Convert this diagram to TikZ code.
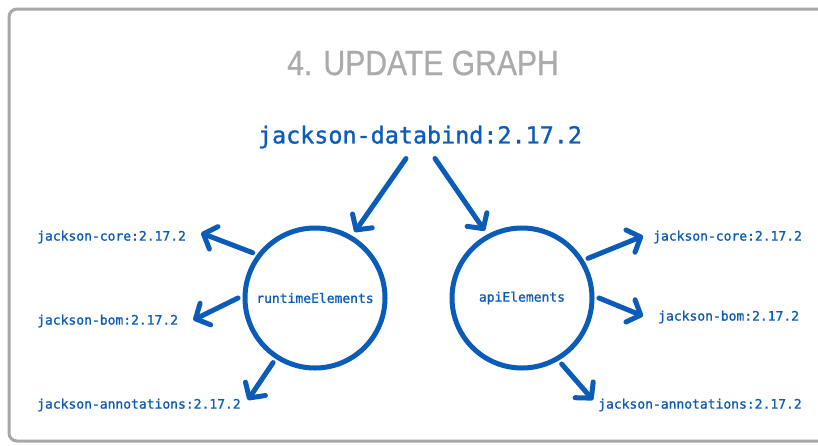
\documentclass[tikz,border=0pt]{standalone}
\usepackage{fontspec}
\setmainfont{Liberation Sans}
\newfontfamily\headfont[FakeStretch=0.86, FakeBold=0.6]{Liberation Sans}
\newfontfamily\codefont[FakeBold=1.1]{DejaVu Sans Mono}
\usetikzlibrary{arrows.meta, positioning, calc}

\definecolor{gblue}{HTML}{0B5CB8}
\definecolor{headgray}{HTML}{ABABAB}
\definecolor{framegray}{HTML}{A8A8A8}

\begin{document}
\begin{tikzpicture}[
        x=1pt, y=-1pt,
        heading/.style={font=\headfont\fontsize{35}{40}\selectfont, text=headgray, inner sep=0pt},
        module/.style={font=\codefont\fontsize{23.4}{26}\selectfont, text=gblue, inner sep=0pt},
        variant/.style={circle, draw=gblue, line width=5pt, minimum size=140pt, outer sep=7pt, font=\codefont\fontsize{13}{15}\selectfont, text=gblue},
        dep/.style={font=\codefont\fontsize{13}{15}\selectfont, text=gblue, inner sep=0pt},
        flow/.style={-{Straight Barb[length=11pt, width=24pt, round]}, draw=gblue, line width=5pt, line cap=round}
    ]

    \useasboundingbox[fill=white] (0,0) rectangle (818,445);
    \draw[framegray, line width=3pt, rounded corners=8pt] (830,9) -- (9,9) -- (9,441) -- (830,441);

    \node[heading] (head) at (423,63) {4. UPDATE GRAPH};
    \node[module] (db) at (420,137) {jackson-databind:2.17.2};

    \node[variant] (rt) at (315,298) {runtimeElements};
    \node[variant] (api) at (522,298) {apiElements};

    \node[dep, anchor=west] (core1) at (37,237) {jackson-core:2.17.2};
    \node[dep, anchor=west] (bom1) at (37,321) {jackson-bom:2.17.2};
    \node[dep, anchor=west] (ann1) at (37,405) {jackson-annotations:2.17.2};
    \node[dep, anchor=west] (core2) at (653,237) {jackson-core:2.17.2};
    \node[dep, anchor=west] (bom2) at (658,317) {jackson-bom:2.17.2};
    \node[dep, anchor=west] (ann2) at (598,405) {jackson-annotations:2.17.2};

    \draw[flow] ([xshift=-14pt, yshift=-10pt]db.south) -- (rt.59);
    \draw[flow] ([xshift=15pt, yshift=-10pt]db.south) -- (api.119);

    \draw[flow] (rt.144) -- ([xshift=15pt, yshift=4pt]core1.east);
    \draw[flow] (rt.180) -- ([xshift=15pt, yshift=1pt]bom1.east);
    \draw[flow] (rt.237) -- ([xshift=7pt, yshift=5pt]ann1.east);

    \draw[flow] (api.31) -- ([xshift=-10pt, yshift=1pt]core2.west);
    \draw[flow] (api.0) -- ([xshift=-15pt, yshift=1pt]bom2.west);
    \draw[flow] (api.-59) -- ([xshift=-5pt, yshift=5pt]ann2.west);

\end{tikzpicture}
\end{document}
